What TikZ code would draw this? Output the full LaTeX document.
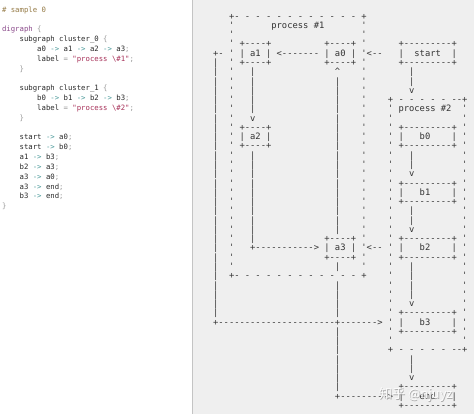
\documentclass[tikz,border=0pt]{standalone}
\usepackage{fontspec}
\setmonofont{DejaVu Sans Mono}
\newfontfamily\cjkfont{Noto Sans CJK SC}
\definecolor{panelbg}{HTML}{EFEFEF}
\definecolor{divider}{HTML}{C4C4C4}
\definecolor{asciic}{HTML}{333333}
\definecolor{idc}{HTML}{2A2A2A}
\definecolor{cmt}{HTML}{957A45}
\definecolor{kwc}{HTML}{8B4A8B}
\definecolor{punc}{HTML}{9A9A9A}
\definecolor{arrc}{HTML}{4B9A9A}
\definecolor{strc}{HTML}{A8325A}
\newcommand\sk[1]{\kern#1\fontcharwd\font32\relax}
\begin{document}
\begin{tikzpicture}[x=1bp,y=-1bp,
  asc/.style={anchor=base west, inner sep=0pt, outer sep=0pt,
    font=\ttfamily\fontsize{8.8bp}{9bp}\selectfont, text=asciic},
  code/.style={anchor=base west, inner sep=0pt, outer sep=0pt,
    font=\ttfamily\fontsize{7.31bp}{8bp}\selectfont, text=idc},
  wmark/.style={anchor=west, inner sep=0pt, font=\cjkfont\fontsize{13bp}{13bp}\selectfont}]
\useasboundingbox (0,0) rectangle (474,414);
\fill[white] (0,0) rectangle (192,414);
\fill[panelbg] (192,0) rectangle (474,414);
\draw[divider, line width=1.2bp] (192.6,0) -- (192.6,414);
\newcommand\arow[2]{\node[asc] (r#1) at (213.11,{19.16+9.27*#1}) {#2};}
\newcommand\crow[2]{\node[code] (c#1) at (2.0,{12.07+9.83*#1}) {#2};}
% ---------- code panel ----------
\crow{0}{\textcolor{cmt}{\# sample 0}}
\crow{2}{\textcolor{kwc}{digraph}~\textcolor{punc}{\{}}
\crow{3}{\sk4subgraph cluster\_0 \textcolor{punc}{\{}}
\crow{4}{\sk8a0 \textcolor{arrc}{->} a1 \textcolor{arrc}{->} a2 \textcolor{arrc}{->} a3\textcolor{punc}{;}}
\crow{5}{\sk8label \textcolor{punc}{=} \textcolor{strc}{"process \textbackslash\#1"}\textcolor{punc}{;}}
\crow{6}{\sk4\textcolor{punc}{\}}}
\crow{8}{\sk4subgraph cluster\_1 \textcolor{punc}{\{}}
\crow{9}{\sk8b0 \textcolor{arrc}{->} b1 \textcolor{arrc}{->} b2 \textcolor{arrc}{->} b3\textcolor{punc}{;}}
\crow{10}{\sk8label \textcolor{punc}{=} \textcolor{strc}{"process \textbackslash\#2"}\textcolor{punc}{;}}
\crow{11}{\sk4\textcolor{punc}{\}}}
\crow{13}{\sk4start \textcolor{arrc}{->} a0\textcolor{punc}{;}}
\crow{14}{\sk4start \textcolor{arrc}{->} b0\textcolor{punc}{;}}
\crow{15}{\sk4a1 \textcolor{arrc}{->} b3\textcolor{punc}{;}}
\crow{16}{\sk4b2 \textcolor{arrc}{->} a3\textcolor{punc}{;}}
\crow{17}{\sk4a3 \textcolor{arrc}{->} a0\textcolor{punc}{;}}
\crow{18}{\sk4a3 \textcolor{arrc}{->} end\textcolor{punc}{;}}
\crow{19}{\sk4b3 \textcolor{arrc}{->} end\textcolor{punc}{;}}
\crow{20}{\textcolor{punc}{\}}}
% ---------- ascii diagram ----------
\arow{0}{\sk3+-~-~-~-~-~-~-~-~-~-~-~-~+}
\arow{1}{\sk3'\sk7process~\#1\sk7'}
\arow{2}{\sk3'\sk{24}'}
\arow{3}{\sk3'~+----+\sk{10}+----+~'\sk6+---------+}
\arow{4}{+-~'~|~a1~|~<-------~|~a0~|~'<--\sk3|\sk2start\sk2|}
\arow{5}{|\sk2'~+----+\sk{10}+----+~'\sk6+---------+}
\arow{6}{|\sk2'\sk3|\sk{15}\textasciicircum\sk4'\sk8|}
\arow{7}{|\sk2'\sk3|\sk{15}|\sk4'\sk8|}
\arow{8}{|\sk2'\sk3|\sk{15}|\sk4'\sk8v}
\arow{9}{|\sk2'\sk3|\sk{15}|\sk4'\sk4+~-~-~-~-~-~--+}
\arow{10}{|\sk2'\sk3|\sk{15}|\sk4'\sk4'~process~\#2\sk2'}
\arow{11}{|\sk2'\sk3v\sk{15}|\sk4'\sk4'\sk{13}'}
\arow{12}{|\sk2'~+----+\sk{12}|\sk4'\sk4'~+---------+~'}
\arow{13}{|\sk2'~|~a2~|\sk{12}|\sk4'\sk4'~|\sk3b0\sk4|~'}
\arow{14}{|\sk2'~+----+\sk{12}|\sk4'\sk4'~+---------+~'}
\arow{15}{|\sk2'\sk3|\sk{15}|\sk4'\sk4'\sk3|\sk9'}
\arow{16}{|\sk2'\sk3|\sk{15}|\sk4'\sk4'\sk3|\sk9'}
\arow{17}{|\sk2'\sk3|\sk{15}|\sk4'\sk4'\sk3v\sk9'}
\arow{18}{|\sk2'\sk3|\sk{15}|\sk4'\sk4'~+---------+~'}
\arow{19}{|\sk2'\sk3|\sk{15}|\sk4'\sk4'~|\sk3b1\sk4|~'}
\arow{20}{|\sk2'\sk3|\sk{15}|\sk4'\sk4'~+---------+~'}
\arow{21}{|\sk2'\sk3|\sk{15}|\sk4'\sk4'\sk3|\sk9'}
\arow{22}{|\sk2'\sk3|\sk{15}|\sk4'\sk4'\sk3|\sk9'}
\arow{23}{|\sk2'\sk3|\sk{15}|\sk4'\sk4'\sk3v\sk9'}
\arow{24}{|\sk2'\sk3|\sk{13}+----+~'\sk4'~+---------+~'}
\arow{25}{|\sk2'\sk3+----------->~|~a3~|~'<--~'~|\sk3b2\sk4|~'}
\arow{26}{|\sk2'\sk{17}+----+~'\sk4'~+---------+~'}
\arow{27}{|\sk2'\sk{19}|\sk4'\sk4'\sk3|\sk9'}
\arow{28}{|\sk2+-~-~-~-~-~-~-~-~-~-~-~-~+\sk4'\sk3|\sk9'}
\arow{29}{|\sk{22}|\sk9'\sk3|\sk9'}
\arow{30}{|\sk{22}|\sk9'\sk3|\sk9'}
\arow{31}{|\sk{22}|\sk9'\sk3v\sk9'}
\arow{32}{|\sk{22}|\sk9'~+---------+~'}
\arow{33}{+----------------------+------->~'~|\sk3b3\sk4|~'}
\arow{34}{\sk{23}|\sk9'~+---------+~'}
\arow{35}{\sk{23}|\sk9'\sk{13}'}
\arow{36}{\sk{23}|\sk9+~-~-~-~-~-~--+}
\arow{37}{\sk{23}|\sk{13}|}
\arow{38}{\sk{23}|\sk{13}|}
\arow{39}{\sk{23}|\sk{13}v}
\arow{40}{\sk{23}|\sk{11}+---------+}
\arow{41}{\sk{23}+--------->~|\sk3end\sk3|}
\arow{42}{\sk{35}+---------+}
% ---------- watermark ----------
\node[wmark, text=black!45, opacity=0.7] (wmshadow) at (379.7,395.7) {知乎 @njuyz};
\node[wmark, text=white, opacity=0.9] (wm) at (379,395) {知乎 @njuyz};
\end{tikzpicture}
\end{document}
